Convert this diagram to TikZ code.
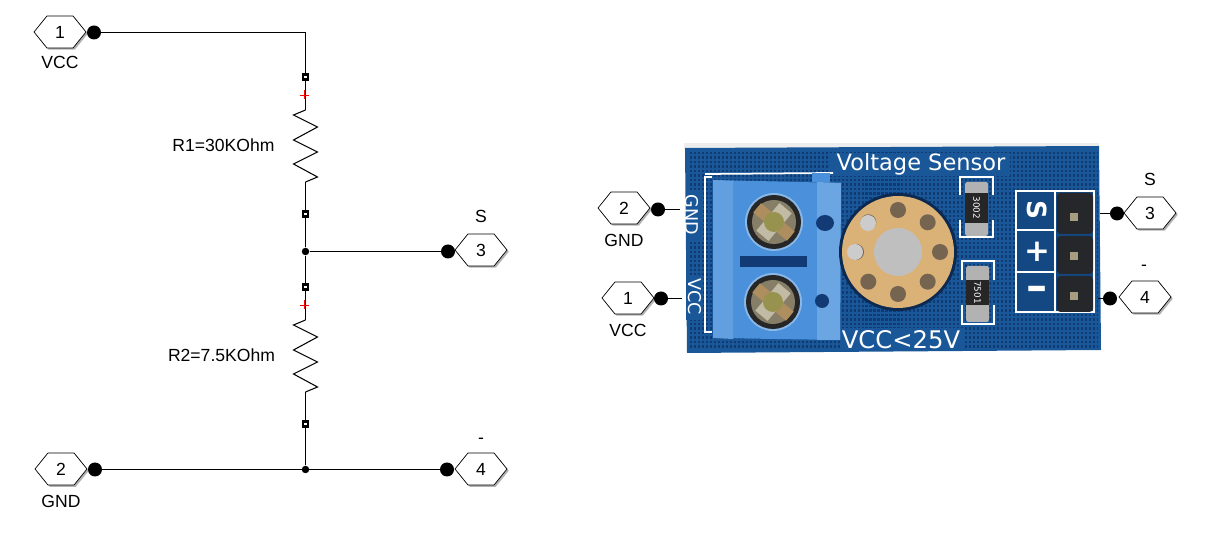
\documentclass[tikz,border=0pt]{standalone}
\usepackage{fontspec}
\setmainfont{Liberation Sans}
\newfontfamily\silkfont{DejaVu Sans}
\usetikzlibrary{shapes.symbols,shadows}

\definecolor{boardblue}{HTML}{1A5798}
\definecolor{dotblue}{HTML}{0F3B72}
\definecolor{blockblue}{HTML}{4A90DA}
\definecolor{blockfront}{HTML}{6CA6E2}
\definecolor{slotblue}{HTML}{123A75}
\definecolor{brass}{HTML}{DAB277}
\definecolor{brassdark}{HTML}{75644F}
\definecolor{steel}{HTML}{A79E80}
\definecolor{pinblack}{HTML}{26272A}

\tikzset{
	port/.style={shape=signal,signal to=west and east,signal pointer angle=102,draw=black,fill=white,
		minimum width=1.04cm,minimum height=0.64cm,inner sep=0pt,font=\fontsize{10}{12}\selectfont,
		drop shadow={shadow xshift=1pt,shadow yshift=-1pt,fill=black,opacity=0.3}},
	bigdot/.style={shape=circle,fill=black,minimum size=0.28cm,inner sep=0pt},
	joint/.style={shape=circle,fill=black,minimum size=0.15cm,inner sep=0pt},
	term/.style={shape=rectangle,draw=black,line width=1.7pt,fill=white,minimum size=0.1cm,inner sep=0pt},
	txt/.style={font=\fontsize{10}{12}\selectfont,inner sep=0pt},
	silk/.style={font=\silkfont,text=white,inner sep=0pt},
	wire/.style={line width=0.6pt},
	plus/.style={draw=red,line width=0.5pt}
}

\begin{document}
\begin{tikzpicture}[x=0.02cm,y=-0.02cm]
	\useasboundingbox (0,0) rectangle (1217,546);

	% circuit
	\node[port] (in1) at (60,32) {1};
	\node[port] (in2) at (61,469) {2};
	\node[port] (out3) at (481,250) {3};
	\node[port] (out4) at (481,469) {4};
	\node[bigdot] (d1) at (94,32.5) {};
	\node[bigdot] (d2) at (95,469.5) {};
	\node[bigdot] (d3) at (448,251.5) {};
	\node[bigdot] (d4) at (447,469.5) {};
	\node[term] (t1) at (305.5,77) {};
	\node[term] (t2) at (305.5,214) {};
	\node[term] (t3) at (305.5,287) {};
	\node[term] (t4) at (305.5,424) {};
	\node[joint] (j1) at (305.5,251.5) {};
	\node[joint] (j2) at (305.5,469.5) {};
	\coordinate (corner) at (305.5,32.5);
	\coordinate (r1a) at (305.5,110);
	\coordinate (r1b) at (305.5,182);
	\coordinate (r2a) at (305.5,320);
	\coordinate (r2b) at (305.5,392);

	\node[txt] (vcc1) at (60,62) {VCC};
	\node[txt] (gnd1) at (61,501) {GND};
	\node[txt] (s1) at (481,216) {S};
	\node[txt] (minus1) at (481,441) {-};
	\node[txt] (r1) at (223.5,145) {R1=30KOhm};
	\node[txt] (r2) at (221.5,355) {R2=7.5KOhm};

	\draw[wire] (d1) -- (corner) -- (t1);
	\path[wire] (t1) edge (r1a);
	\path[wire] (r1b) edge (t2);
	\path[wire] (t2) edge (j1);
	\path[wire] (j1) edge (t3);
	\path[wire] (t3) edge (r2a);
	\path[wire] (r2b) edge (t4);
	\path[wire] (t4) edge (j2);
	\path[wire] (j1) edge (d3);
	\path[wire] (d2) edge (d4);
	\draw[wire] (r1a) -- ++(-12,5) -- ++(24,12) -- ++(-24,13) -- ++(24,12) -- ++(-24,12) -- ++(24,13) -- (r1b);
	\draw[wire] (r2a) -- ++(-12,5) -- ++(24,12) -- ++(-24,13) -- ++(24,12) -- ++(-24,12) -- ++(24,13) -- (r2b);
	\draw[plus] (300,95) -- (309,95) (304.5,90.5) -- (304.5,99.5);
	\draw[plus] (300,305) -- (309,305) (304.5,300.5) -- (304.5,309.5);

	% board
	\fill[black!7] (684,143) rectangle (1099,150);
	\fill[boardblue] (685,148) -- (1099,146) -- (1101,350) -- (687,353) -- cycle;
	\foreach \y in {153,157.5,...,349}
		\draw[dotblue,line width=1.5pt,dash pattern=on 1.2pt off 1.07pt] (690,\y) -- (1097,\y);
	\fill[boardblue] (830,153) rectangle (1010,176);
	\fill[boardblue] (840,328) rectangle (964,351);
	\fill[boardblue] (686,190) rectangle (703,240);
	\fill[boardblue] (686,275) rectangle (703,320);
	\draw[white,line width=1pt] (712,177) -- (705,177) -- (705,332) -- (712,332);
	\draw[white,line width=1pt] (705,174) -- (833,173);

	% terminal block
	\fill[blockblue] (812,173) rectangle (830,182);
	\fill[blockblue] (713,180) -- (841,183) -- (840,340) -- (713,338) -- cycle;
	\fill[blockfront] (817,182) -- (841,183) -- (840,340) -- (817,340) -- cycle;
	\fill[blockfront!70!blockblue] (713,180) -- (733,181) -- (733,339) -- (713,338) -- cycle;
	\fill[slotblue] (740,256) rectangle (807,267);
	\fill[slotblue] (825,223) ellipse (9 and 8);
	\fill[slotblue] (822,301) circle (7);
	\foreach \cx/\cy in {774/222,773/302}{
		\fill[blockfront!80!white] (\cx,\cy) circle (29);
		\fill[black!85] (\cx,\cy) circle (27);
		\fill[steel!80!black] (\cx,\cy) circle (22);
		\fill[brass!80!black,rotate around={-40:(\cx,\cy)}] (\cx-22,\cy-6) rectangle (\cx+22,\cy+6);
		\fill[steel!70!white,rotate around={-40:(\cx,\cy)}] (\cx-8,\cy-18) rectangle (\cx+8,\cy+18);
		\fill[steel!60!olive] (\cx,\cy) circle (10);
	}

	% brass ring
	\fill[slotblue!70!black] (898,252) circle (59);
	\fill[brass] (898,252) circle (56);
	\fill[black!25] (898,252) circle (24);
	\foreach \a in {0,45,...,315}
		\fill[brassdark] (898,252) ++(\a:42) circle (8);
	\fill[black!20] (868,223) circle (8);
	\fill[black!20] (855,252) circle (8);

	% smd parts
	\draw[white,line width=1pt] (960,195) -- (960,177) -- (993,177) -- (993,195);
	\draw[white,line width=1pt] (960,220) -- (960,237) -- (993,237) -- (993,220);
	\fill[black!30,rounded corners=1pt] (965,182) rectangle (988,236);
	\fill[black!85] (965,193) rectangle (988,223);
	\node[silk,rotate=-90,font=\silkfont\fontsize{5}{6}\selectfont] (code1) at (976.5,208) {3002};
	\draw[white,line width=1pt] (962,280) -- (962,261) -- (994,261) -- (994,280);
	\draw[white,line width=1pt] (962,305) -- (962,324) -- (994,324) -- (994,305);
	\fill[black!30,rounded corners=1pt] (966,266) rectangle (989,322);
	\fill[black!85] (966,280) rectangle (989,305);
	\node[silk,rotate=-90,font=\silkfont\fontsize{5}{6}\selectfont] (code2) at (977.5,292.5) {7501};

	% header
	\fill[dotblue!55!boardblue] (1017,192) rectangle (1093,311);
	\draw[white,line width=1pt] (1016,191) rectangle (1094,312);
	\draw[white,line width=1pt] (1055,191) -- (1055,312);
	\draw[white,line width=1pt] (1016,230) -- (1055,230);
	\draw[white,line width=1pt] (1016,272) -- (1055,272);
	\fill[pinblack,rounded corners=2pt] (1057,193) rectangle (1093,234);
	\fill[pinblack,rounded corners=2pt] (1057,236) rectangle (1093,274);
	\fill[pinblack,rounded corners=2pt] (1057,276) rectangle (1093,312);
	\foreach \py in {217,256,296}
		\fill[steel] (1070,\py-4) rectangle (1078,\py+4);

	% silk text
	\node[silk,font=\silkfont\fontsize{12.8}{14}\selectfont] (title) at (921,164) {Voltage Sensor};
	\node[silk,font=\silkfont\fontsize{13.8}{15}\selectfont] (limit) at (901,340) {VCC<25V};
	\node[silk,rotate=-90,font=\silkfont\fontsize{10}{12}\selectfont] (silkgnd) at (692,215) {GND};
	\node[silk,rotate=-90,font=\silkfont\fontsize{10}{12}\selectfont] (silkvcc) at (695,297) {VCC};
	\node[silk,rotate=-90,font=\silkfont\bfseries\fontsize{15}{17}\selectfont] (silks) at (1037,210) {S};
	\node[silk,font=\silkfont\bfseries\fontsize{17.6}{19}\selectfont] (silkp) at (1037,252) {+};
	\node[silk,font=\silkfont\bfseries\fontsize{24}{26}\selectfont] (silkm) at (1037,293) {–};

	% board pins
	\node[port] (in2b) at (624,208) {2};
	\node[port] (in1b) at (628,298) {1};
	\node[port] (out3b) at (1150,213) {3};
	\node[port] (out4b) at (1145,297) {4};
	\node[bigdot] (d2b) at (658,209.5) {};
	\node[bigdot] (d1b) at (661,298.5) {};
	\node[bigdot] (d3b) at (1117,213.5) {};
	\node[bigdot] (d4b) at (1110,298.5) {};
	\coordinate (e2) at (680,209.5);
	\coordinate (e1) at (682,298.5);
	\coordinate (e3) at (1100,213.5);
	\coordinate (e4) at (1098,298.5);
	\path[wire] (d2b) edge (e2);
	\path[wire] (d1b) edge (e1);
	\path[wire] (d3b) edge (e3);
	\path[wire] (d4b) edge (e4);
	\node[txt] (gnd2) at (624,240) {GND};
	\node[txt] (vcc2) at (628,330) {VCC};
	\node[txt] (s2) at (1150,179) {S};
	\node[txt] (minus2) at (1144,268) {-};
\end{tikzpicture}
\end{document}
